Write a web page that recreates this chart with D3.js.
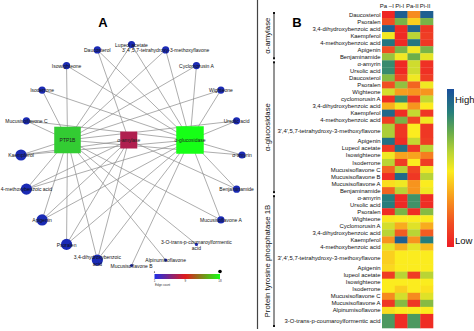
<!DOCTYPE html>
<html><head><meta charset="utf-8">
<script src="https://cdn.jsdelivr.net/npm/d3@7"></script>
<style>
body{margin:0;background:#fff}
svg{display:block;font-family:"Liberation Sans",Arial,sans-serif}
</style>
</head><body><script>
// ---------------- DATA ----------------
const targets = ["PTP1B", "α-amylase", "α-glucosidase"];
// peripheral compounds in circular order (clockwise from top)
const networkCompounds = [
  "Lupeol acetate", "3',4',5,7-tetrahydroxy-3-methoxyflavone", "Cyclomorusin A", "Wighteone",
  "Ursolic acid", "α-amyrin", "Benjaminamide", "Mucusisoflavone A",
  "3-O-trans-p-coumaroylformentic acid", "Alpinumisoflavone", "Mucusisoflavone B",
  "3,4-dihydroxybenzoic acid", "Psoralen", "Apigenin", "4-methoxybenzoic acid", "Kaempferol",
  "Mucusisoflavone C", "Isoderrone", "Isowighteone", "Daucosterol"
];
const conditions = ["Pa –I", "Pi-I", "Pa-II", "Pi-II"];
const edgeCountTicks = ["1", "9", "18"];

const amylaseCompounds = ["Daucosterol", "Psoralen", "3,4-dihydroxybenzoic acid", "Kaempferol",
  "4-methoxybenzoic acid", "Apigenin", "Benjaminamide"];
const amylaseValues = [
  [0.03, 0.95, 0.28, 0.95],
  [0.15, 0.70, 0.42, 0.70],
  [0.95, 0.04, 0.93, 0.08],
  [0.50, 0.04, 0.60, 0.10],
  [0.88, 0.04, 0.88, 0.08],
  [0.15, 0.70, 0.50, 0.70],
  [0.65, 0.50, 0.72, 0.52]
];
const glucosidaseCompounds = ["α-amyrin", "Ursolic acid", "Daucosterol", "Psoralen", "Wighteone",
  "cyclomorusin A", "3,4-dihydroxybenzoic acid", "Kaempferol", "4-methoxybenzoic acid",
  "3',4',5,7-tetrahydroxy-3-methoxyflavone", "Apigenin", "Lupeol acetate", "Isowighteone",
  "Isoderrone", "Mucusisoflavone C", "Mucusisoflavone B", "Mucusisoflavone A", "Benjaminamide"];
const glucosidaseValues = [
  [0.82, 0.04, 0.56, 0.06],
  [0.82, 0.04, 0.56, 0.06],
  [0.68, 0.12, 0.50, 0.10],
  [0.15, 0.66, 0.20, 0.50],
  [0.55, 0.32, 0.30, 0.30],
  [0.05, 0.82, 0.08, 0.58],
  [0.36, 0.50, 0.30, 0.48],
  [0.92, 0.05, 0.58, 0.08],
  [0.10, 0.70, 0.12, 0.50],
  [0.62, 0.08, 0.48, 0.08],
  [0.90, 0.05, 0.58, 0.10],
  [0.08, 0.90, 0.08, 0.60],
  [0.50, 0.33, 0.33, 0.25],
  [0.60, 0.10, 0.48, 0.10],
  [0.20, 0.60, 0.12, 0.50],
  [0.05, 0.92, 0.08, 0.60],
  [0.45, 0.50, 0.30, 0.48],
  [0.20, 0.60, 0.30, 0.50]
];
const ptp1bCompounds = ["α-amyrin", "Ursolic acid", "Psoralen", "Wighteone", "Cyclomorusin A",
  "3,4-dihydroxybenzoic acid", "Kaempferol", "4-methoxybenzoic acid",
  "3',4',5,7-tetrahydroxy-3-methoxyflavone", "Apigenin", "lupeol acetate", "Isowighteone",
  "Isoderrone", "Mucusisoflavone C", "Mucusisoflavone A", "Alpinumisoflavone",
  "3-O-trans-p-coumaroylformentic acid"];
const ptp1bValues = [
  [0.86, 0.04, 0.80, 0.05],
  [0.86, 0.04, 0.80, 0.05],
  [0.05, 0.70, 0.05, 0.68],
  [0.47, 0.48, 0.48, 0.48],
  [0.55, 0.35, 0.53, 0.35],
  [0.60, 0.18, 0.60, 0.18],
  [0.30, 0.95, 0.30, 0.86],
  [0.52, 0.36, 0.52, 0.38],
  [0.42, 0.48, 0.48, 0.48],
  [0.44, 0.48, 0.48, 0.48],
  [0.10, 0.60, 0.10, 0.60],
  [0.48, 0.48, 0.48, 0.48],
  [0.48, 0.42, 0.48, 0.46],
  [0.28, 0.55, 0.28, 0.53],
  [0.08, 0.68, 0.08, 0.68],
  [0.45, 0.48, 0.48, 0.48],
  [0.78, 0.05, 0.78, 0.05]
];

// ---------------- SETUP ----------------
const W = 474, H = 331;
const svg = d3.select("body").append("svg").attr("width", W).attr("height", H);
svg.append("rect").attr("width", W).attr("height", H).attr("fill", "#fff");

const targetLists = {
  "α-amylase": amylaseCompounds,
  "α-glucosidase": glucosidaseCompounds,
  "PTP1B": ptp1bCompounds
};
const norm = s => s.toLowerCase();

// ---------------- PANEL A: network ----------------
const A = svg.append("g");
const cx = 131.5, cy = 155, R = 110.5;
const angle = d3.scaleLinear().domain([0, networkCompounds.length]).range([-Math.PI / 2, 1.5 * Math.PI]);
const nodes = networkCompounds.map((name, i) => {
  const deg = targets.filter(t => targetLists[t].map(norm).includes(norm(name))).length;
  return {name, deg, x: cx + R * Math.cos(angle(i)), y: cy + R * Math.sin(angle(i))};
});
const hubX = d3.scalePoint().domain(targets).range([67.5, 190]);
const hubs = targets.map(t => ({name: t, deg: targetLists[t].length, x: hubX(t), y: 140}));
const links = [];
hubs.forEach(h => {
  nodes.forEach(n => {
    if (targetLists[h.name].map(norm).includes(norm(n.name))) links.push({s: h, t: n});
  });
});

const edgeColor = d3.scaleLinear().domain([1, 9, 18]).range(["#1e2ee6", "#e01a1c", "#16ff16"]);
const hubSize = d3.scaleLinear().domain([7, 18]).range([17, 27.5]);
const nodeR = d3.scaleLinear().domain([1, 3]).range([1.6, 5.6]);

A.append("g").selectAll("line").data(links).join("line")
  .attr("x1", d => d.s.x).attr("y1", d => d.s.y)
  .attr("x2", d => d.t.x).attr("y2", d => d.t.y)
  .attr("stroke", "#8a8a8a").attr("stroke-width", 0.7);

A.append("g").selectAll("rect").data(hubs).join("rect")
  .attr("x", d => d.x - hubSize(d.deg) / 2).attr("y", d => d.y - hubSize(d.deg) / 2)
  .attr("width", d => hubSize(d.deg)).attr("height", d => hubSize(d.deg))
  .attr("fill", d => d.name === "PTP1B" ? "#33cc33" : edgeColor(d.deg));

A.append("g").selectAll("circle").data(nodes).join("circle")
  .attr("cx", d => d.x).attr("cy", d => d.y).attr("r", d => nodeR(d.deg))
  .attr("fill", "#1b2bb5");

A.append("g").selectAll("text").data(hubs).join("text")
  .attr("x", d => d.x).attr("y", d => d.y).attr("dy", "0.35em")
  .attr("text-anchor", "middle").attr("font-size", 5).attr("fill", "#222")
  .text(d => d.name);

const labels = A.append("g").selectAll("text").data(nodes).join("text")
  .attr("text-anchor", "middle").attr("font-size", 5).attr("fill", "#111");
labels.each(function (d) {
  const t = d3.select(this);
  let lines = [d.name];
  if (d.name.length > 22 && d.name.includes(" ")) {
    const k = d.name.lastIndexOf(" ");
    lines = [d.name.slice(0, k), d.name.slice(k + 1)];
  }
  const y0 = d.y - (lines.length - 1) * 3 + 0.5;
  lines.forEach((l, i) => t.append("tspan").attr("x", d.x).attr("y", y0 + i * 6.2).attr("dy", "0.35em").text(l));
});

A.append("text").attr("x", 103).attr("y", 27).attr("text-anchor", "middle")
  .attr("font-size", 13).attr("font-weight", "bold").text("A");

// edge count legend
const defs = svg.append("defs");
const eg = defs.append("linearGradient").attr("id", "edgeGrad");
edgeColor.domain().forEach((v, i) => eg.append("stop")
  .attr("offset", (v - 1) / 17).attr("stop-color", edgeColor(v)));
const ecX = d3.scaleLinear().domain([1, 18]).range([154.5, 220]);
A.append("rect").attr("x", ecX(1)).attr("y", 274).attr("width", ecX(18) - ecX(1)).attr("height", 5)
  .attr("fill", "url(#edgeGrad)");
A.append("circle").attr("cx", ecX(18)).attr("cy", 271.5).attr("r", 1.8).attr("fill", "#000");
A.append("circle").attr("cx", ecX(1)).attr("cy", 272).attr("r", 0.6).attr("fill", "#000");
A.selectAll(".ect").data(edgeCountTicks).join("text")
  .attr("x", d => ecX(+d)).attr("y", 282).attr("text-anchor", "middle")
  .attr("font-size", 3).attr("fill", "#333").text(d => d);
A.append("text").attr("x", 155).attr("y", 285.5).attr("font-size", 3).attr("fill", "#333").text("Edge count");

// divider
svg.append("line").attr("x1", 257.5).attr("x2", 257.5).attr("y1", 0).attr("y2", 329)
  .attr("stroke", "#444").attr("stroke-width", 1.2);

// ---------------- PANEL B: heatmap ----------------
const B = svg.append("g");
const groups = [
  {name: "α-amylase", rows: amylaseCompounds, vals: amylaseValues},
  {name: "α-glucosidase", rows: glucosidaseCompounds, vals: glucosidaseValues},
  {name: "Protein tyrosine phosphatase 1B", rows: ptp1bCompounds, vals: ptp1bValues}
];
const isTall = n => n.startsWith("3',4',5,7") || n.startsWith("3-O-trans");
let slot = 0;
const cells = [], rowInfo = [], groupInfo = [];
groups.forEach(g => {
  const gStart = slot;
  g.rows.forEach((name, i) => {
    const span = isTall(name) ? 2 : 1;
    rowInfo.push({name, s0: slot, span});
    g.vals[i].forEach((v, j) => cells.push({v, c: conditions[j], s0: slot, span}));
    slot += span;
  });
  groupInfo.push({name: g.name, s0: gStart, s1: slot});
});
const yS = d3.scaleLinear().domain([0, slot]).range([11, 328]);
const xB = d3.scaleBand().domain(conditions).range([382, 433]);
const heat = d3.scaleLinear()
  .domain([0, 0.15, 0.3, 0.48, 0.6, 0.72, 0.85, 1])
  .range(["#ee1c25", "#f04e23", "#f7941e", "#fbec1f", "#b9d435", "#6cae4a", "#27807a", "#1a4f9d"]);

B.append("g").selectAll("rect").data(cells).join("rect")
  .attr("x", d => xB(d.c)).attr("y", d => yS(d.s0))
  .attr("width", xB.bandwidth() + 0.3).attr("height", d => yS(d.s0 + d.span) - yS(d.s0) + 0.3)
  .attr("fill", d => heat(d.v));

B.append("g").selectAll("text").data(rowInfo).join("text")
  .attr("x", 380.5).attr("y", d => (yS(d.s0) + yS(d.s0 + d.span)) / 2).attr("dy", "0.35em")
  .attr("text-anchor", "end").attr("font-size", 5.9).attr("fill", "#111")
  .text(d => d.name);

B.append("g").selectAll("text").data(conditions).join("text")
  .attr("x", d => xB(d) + xB.bandwidth() / 2 - 1.5).attr("y", 8)
  .attr("text-anchor", "middle").attr("font-size", 6).attr("fill", "#111")
  .text(d => d);

// group brackets
const gb = B.append("g").selectAll("g").data(groupInfo).join("g");
gb.append("line").attr("x1", 274).attr("x2", 274)
  .attr("y1", d => yS(d.s0) + 2).attr("y2", d => yS(d.s1) - 2)
  .attr("stroke", "#111").attr("stroke-width", 0.9);
gb.append("rect").attr("x", 273).attr("y", d => yS(d.s0) + 1).attr("width", 2).attr("height", 2).attr("fill", "#111");
gb.append("rect").attr("x", 273).attr("y", d => yS(d.s1) - 3).attr("width", 2).attr("height", 2).attr("fill", "#111");
gb.append("text")
  .attr("transform", d => `translate(269.5,${(yS(d.s0) + yS(d.s1)) / 2}) rotate(-90)`)
  .attr("text-anchor", "middle").attr("font-size", 7.8).attr("fill", "#111")
  .text(d => d.name);

B.append("text").attr("x", 297).attr("y", 27).attr("text-anchor", "middle")
  .attr("font-size", 13).attr("font-weight", "bold").text("B");

// colour legend
const lg = defs.append("linearGradient").attr("id", "heatGrad")
  .attr("x1", 0).attr("x2", 0).attr("y1", 0).attr("y2", 1);
heat.domain().slice().reverse().forEach(v => lg.append("stop")
  .attr("offset", 1 - v).attr("stop-color", heat(v)));
const legY = d3.scaleLinear().domain([1, 0]).range([89, 247]);
B.append("rect").attr("x", 447).attr("y", legY(1)).attr("width", 7).attr("height", legY(0) - legY(1))
  .attr("fill", "url(#heatGrad)");
B.append("text").attr("x", 455).attr("y", 103).attr("font-size", 9.5).attr("fill", "#111").text("High");
B.append("text").attr("x", 455).attr("y", 244).attr("font-size", 9.5).attr("fill", "#111").text("Low");
</script></body></html>
